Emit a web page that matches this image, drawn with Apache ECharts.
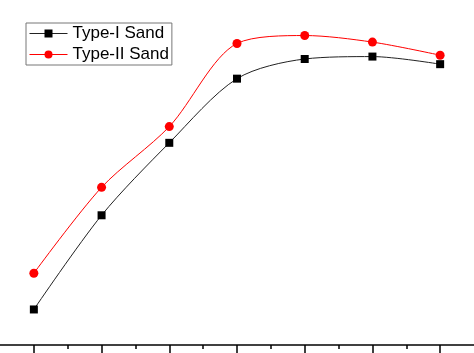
<!DOCTYPE html>
<html>
<head>
<meta charset="utf-8">
<script src="https://cdn.jsdelivr.net/npm/echarts@6/dist/echarts.min.js"></script>
<style>
  html, body { margin: 0; padding: 0; background: #fff; }
  #chart { width: 474px; height: 353px; }
</style>
</head>
<body>
<div id="chart"></div>
<script>
// x positions of the measurements (no labels shown on the axis)
var xValues = [1, 2, 3, 4, 5, 6, 7];
// values (relative units, axis has no labels)
var typeI = [10.3, 37.6, 58.6, 77.2, 82.9, 83.6, 81.4];
var typeII = [20.8, 45.7, 63.3, 87.4, 89.7, 87.8, 84.0];
var majorTicks = [1, 2, 3, 4, 5, 6, 7];
var minorTicks = [1.5, 2.5, 3.5, 4.5, 5.5, 6.5];

function pairs(xs, ys) {
    var out = [];
    for (var i = 0; i < xs.length; i++) {
        out.push([xs[i], ys[i]]);
    }
    return out;
}

var myChart = echarts.init(document.getElementById('chart'));
var option = {
    animation: false,
    backgroundColor: '#fff',
    grid: {
        left: 0,
        right: 0,
        top: 0,
        bottom: 8
    },
    legend: {
        orient: 'vertical',
        left: 26,
        top: 23,
        padding: [0, 3, 0, 3],
        itemGap: 0,
        itemWidth: 38,
        itemHeight: 10,
        borderColor: '#777',
        borderWidth: 1,
        lineStyle: { width: 1 },
        textStyle: {
            fontFamily: 'Liberation Sans',
            fontSize: 17,
            lineHeight: 21,
            color: '#000'
        },
        data: ['Type-I Sand', 'Type-II Sand']
    },
    xAxis: [{
        type: 'value',
        min: 0.5,
        max: 7.5,
        axisLine: { show: true, lineStyle: { color: '#000', width: 1.5 } },
        axisTick: { show: true, customValues: minorTicks, length: 4, lineStyle: { color: '#000', width: 1.5 } },
        axisLabel: { show: false },
        splitLine: { show: false }
    }, {
        type: 'value',
        min: 0.5,
        max: 7.5,
        position: 'bottom',
        axisLine: { show: false },
        axisTick: { show: true, customValues: majorTicks, length: 9, lineStyle: { color: '#000', width: 1.5 } },
        axisLabel: { show: false },
        splitLine: { show: false }
    }],
    yAxis: {
        type: 'value',
        min: 0,
        max: 100,
        show: false,
        splitLine: { show: false }
    },
    series: [
        {
            name: 'Type-I Sand',
            type: 'line',
            smooth: 0.3,
            symbol: 'rect',
            symbolSize: 8,
            lineStyle: { color: '#222', width: 1 },
            itemStyle: { color: '#000' },
            data: pairs(xValues, typeI)
        },
        {
            name: 'Type-II Sand',
            type: 'line',
            smooth: 0.3,
            symbol: 'circle',
            symbolSize: 9,
            lineStyle: { color: '#f00', width: 1 },
            itemStyle: { color: '#f00' },
            data: pairs(xValues, typeII)
        }
    ]
};
myChart.setOption(option);
</script>
</body>
</html>
